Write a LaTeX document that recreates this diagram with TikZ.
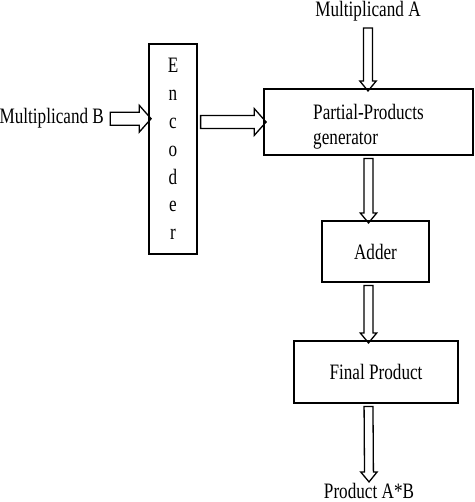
\documentclass[tikz,border=0pt]{standalone}
\usepackage{fontspec}
\setmainfont{Liberation Serif}[FakeStretch=0.78]
\usetikzlibrary{shapes.arrows,calc}

% hollow block arrow laid between two points
\newcommand{\fatarrow}[3][]{%
  \path let \p1=($(#3)-(#2)$), \n1={veclen(\x1,\y1)} in
    (#2) -- (#3) node[midway,sloped,allow upside down,hollow,minimum height=\n1,#1] {};}

\begin{document}
\begin{tikzpicture}[
  x=1pt, y=-1pt,
  every node/.style={font=\fontsize{22}{25}\selectfont},
  box/.style={draw,line width=1.5pt,inner sep=0pt},
  hollow/.style={single arrow,draw,line width=1.3pt,inner xsep=0pt,single arrow head indent=0pt},
  vert/.style={inner ysep=3.8pt,minimum width=15pt,single arrow head extend=3.7pt,single arrow tip angle=79},
  horiz/.style={inner ysep=5.8pt,minimum width=25.6pt,single arrow head extend=7pt,single arrow tip angle=97},
  ]
  \useasboundingbox (0,0) rectangle (474,502);

  % blocks
  \node[box,minimum width=48pt,minimum height=210pt,align=center,
    font=\fontsize{22}{27.8}\selectfont] (enc) at (173,149) {E\\n\\c\\o\\d\\e\\r};
  \node[box,minimum width=209pt,minimum height=66pt,align=left,
    text height=50pt,text depth=4pt] (ppg) at (368.5,122) {Partial-Products\\generator};
  \node[box,minimum width=107pt,minimum height=61pt] (adder) at (375.5,251.5) {Adder};
  \node[box,minimum width=164pt,minimum height=62pt] (fin) at (376,372) {Final Product};

  % inputs and output
  \node[anchor=base] (multA) at (368,17) {Multiplicand A};
  \node[anchor=base west] (multB) at (-4,124) {Multiplicand B};
  \node[anchor=base] (prod) at (369,498) {Product A*B};

  % arrows
  \fatarrow[vert]{multA.south}{ppg.north -| multA.south}
  \fatarrow[vert]{ppg.south}{adder.north -| ppg.south}
  \fatarrow[vert]{adder.south -| ppg.south}{fin.north -| ppg.south}
  \fatarrow[vert]{fin.south -| ppg.south}{prod.north}
  \fatarrow[horiz]{multB.east}{enc.west |- multB.east}
  \fatarrow[horiz]{enc.east |- ppg.west}{ppg.west}
\end{tikzpicture}
\end{document}
